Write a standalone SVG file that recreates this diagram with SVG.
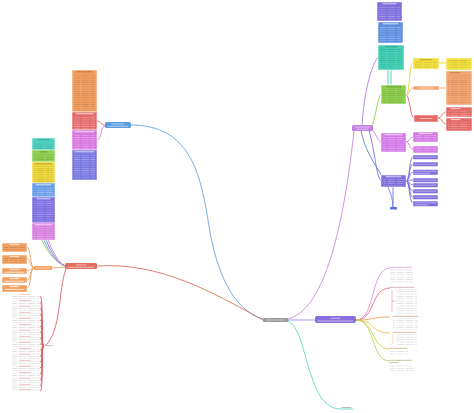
<svg xmlns="http://www.w3.org/2000/svg" width="474" height="413" viewBox="0 0 474 413">
<style>
.c{fill:none;stroke-width:0.9}
.bx{stroke:#fff;stroke-width:0.5}
.ttl{stroke-width:0.7;stroke-linecap:round}
</style>
<defs>
<pattern id="txl" width="9" height="2.2" patternUnits="userSpaceOnUse"><path d="M0.6 1.1H8.2" stroke="#fff" stroke-opacity="0.45" stroke-width="0.55"/></pattern>
<pattern id="txd" width="9" height="2.2" patternUnits="userSpaceOnUse"><path d="M0.6 1.1H8.2" stroke="#000" stroke-opacity="0.2" stroke-width="0.55"/></pattern>
<pattern id="txg" width="9" height="2.4" patternUnits="userSpaceOnUse"><path d="M0.4 1.2H8" stroke="#888" stroke-opacity="0.45" stroke-width="0.5"/></pattern>
</defs>
<rect width="474" height="413" fill="#fff"/>

<g id="connectors">
<path class="c" stroke="#6aa6df" d="M131,125 C188,125 200,170 208,220 C216,275 234,310 263,319"/>
<path class="c" stroke="#e0705e" d="M97,266 C160,262 212,292 263,320"/>
<path class="c" stroke="#c88ae0" d="M288,319 C322,310 342,240 354,131"/>
<path class="c" stroke="#a48ae2" d="M288,320 L315,320"/>
<path class="c" stroke="#62d8c8" d="M288,321 C308,330 306,405 338,409 L353,409"/>
<path class="c" stroke="#b07ce0" d="M362,125 C364,95 370,68 378,57"/>
<path stroke="#45cfb5" stroke-width="0.9" d="M388,70 V85 M391,70 V85"/>
<path class="c" stroke="#8fd04f" d="M372,126 C377,112 377,98 381,95"/>
<path class="c" stroke="#d27ae4" d="M372,130 C377,134 377,141 381,142"/>
<path class="c" stroke="#7f6ddb" d="M369,131 C375,150 376,176 381,181"/>
<path class="c" stroke="#5f7fe0" d="M361,131 C368,165 392,180 393,207"/>
<path stroke="#7f6ddb" stroke-width="0.9" d="M393,187 V207"/>
<path class="c" stroke="#e6d038" d="M406,95 C410,95 409,63 413,63"/>
<path class="c" stroke="#f0a26e" d="M406,95 C410,95 409,88 413,88"/>
<path class="c" stroke="#e26864" d="M406,95 C410,95 410,118 414,118"/>
<path class="c" stroke="#e6d038" d="M439,63 L446,63"/>
<path class="c" stroke="#f0a26e" d="M439,88 L446,88"/>
<path class="c" stroke="#e26864" d="M438,118 C442,118 442,112 446,112 M438,118 C442,118 442,124 446,124"/>
<path class="c" stroke="#d27ae4" d="M406,142 C410,142 409,137 413,137 M406,142 C410,142 409,149 413,149"/>
<path class="c" stroke="#7f6ddb" d="M406,181 C410,181 409,157 413,157 M406,181 C410,181 409,164 413,164 M406,181 C410,181 409,172 413,172 M406,181 C410,181 409,180 413,180 M406,181 C410,181 409,185 413,185 M406,181 C410,181 409,191 413,191 M406,181 C410,181 409,197 413,197 M406,181 C410,181 409,203 413,203"/>
<path class="c" stroke="#e26a6a" d="M105,125 C100,125 101,121 97,121"/>
<path class="c" stroke="#d878e0" d="M105,126 C100,126 102,140 97,140"/>
<path class="c" stroke="#8fd04f" d="M65,266 C56,262 48,254 42,240"/>
<path class="c" stroke="#6a9ee8" d="M65,266 C56,262 50,254 44,240"/>
<path class="c" stroke="#7f6fe0" d="M65,266 C57,262 52,254 46,240"/>
<path class="c" stroke="#d880e0" d="M65,266 C58,262 54,254 48,240"/>
<path class="c" stroke="#f0a060" d="M65,267 L52,268"/>
<path class="c" stroke="#f0a060" d="M34,268 C30,268 31,247 27,247 M34,268 C30,268 31,259 27,259 M34,268 C30,268 31,271 27,271 M34,268 C30,268 31,280 27,280 M34,268 C30,268 31,288 27,288"/>
<path class="c" stroke="#e0606a" d="M66,269 C58,290 62,330 45,346"/>
<path class="c" stroke="#e0606a" d="M44,346 C40,346 44,296 40,296 M44,346 C40,346 44,302 40,302 M44,346 C40,346 44,308 40,308 M44,346 C40,346 44,314 40,314 M44,346 C40,346 44,320 40,320 M44,346 C40,346 44,326 40,326 M44,346 C40,346 44,332 40,332 M44,346 C40,346 44,338 40,338 M44,346 C40,346 44,344 40,344 M44,346 C40,346 44,350 40,350 M44,346 C40,346 44,356 40,356 M44,346 C40,346 44,362 40,362 M44,346 C40,346 44,368 40,368 M44,346 C40,346 44,374 40,374 M44,346 C40,346 44,380 40,380 M44,346 C40,346 44,386 40,386 M44,346 C40,346 44,391 40,391"/>
<path class="c" stroke="#e092d8" d="M356,320 C376,320 370,268 390,268"/>
<path class="c" stroke="#e07284" d="M356,320 C376,320 370,288 390,288"/>
<path class="c" stroke="#f0a060" d="M356,320 C376,320 370,317 390,317"/>
<path class="c" stroke="#f0c050" d="M356,320 C376,320 370,333 390,333"/>
<path class="c" stroke="#d8d040" d="M356,320 C376,320 370,349 390,349"/>
<path class="c" stroke="#b0d860" d="M356,320 C376,320 370,361 390,361"/>
</g>

<g id="central"><rect x="263" y="318" width="25" height="4" rx="1" fill="#9a9a9a"/><path class="ttl" stroke="#fff" stroke-opacity="0.7" d="M266,320H285"/></g>
<g id="node-right"><rect x="315" y="316" width="41" height="7" rx="2" fill="#8a6ee0"/><path class="ttl" stroke="#fff" stroke-opacity="0.75" d="M331,318.2H340 M318,321H353"/></g>
<g id="node-framework"><rect x="352" y="125" width="21" height="6" rx="1.5" fill="#c47ee0"/><path class="ttl" stroke="#fff" stroke-opacity="0.75" d="M355,127H370 M357,129.2H368"/></g>
<g id="node-topleft"><rect x="105" y="122" width="26" height="6" rx="1.5" fill="#5a9ee0"/><path class="ttl" stroke="#fff" stroke-opacity="0.75" d="M112,124H124 M108,126.3H128"/></g>
<g id="node-left"><rect x="65" y="263" width="32" height="6" rx="1.5" fill="#e06f5f"/><path class="ttl" stroke="#fff" stroke-opacity="0.75" d="M76,265H86 M68,267.3H94"/></g>
<g id="node-cyan"><path class="ttl" stroke="#555" stroke-opacity="0.6" d="M342,407.5H351"/></g>

<g id="tr-boxes">
<g id="b1"><rect class="bx" x="377" y="2" width="25" height="19" fill="#7e6fdd"/><rect x="379" y="6" width="21" height="14" fill="url(#txl)"/><path class="ttl" stroke="#fff" d="M383,3.8H396"/></g>
<g id="b2"><rect class="bx" x="378" y="22" width="25" height="21" fill="#5f8fe0"/><rect x="380" y="26" width="21" height="16" fill="url(#txl)"/><path class="ttl" stroke="#fff" d="M383,23.8H398"/></g>
<g id="b3"><rect class="bx" x="378" y="45" width="26" height="25" fill="#45d0b5"/><rect x="380" y="49" width="22" height="20" fill="url(#txd)"/><path class="ttl" stroke="#1a5a50" stroke-opacity="0.6" d="M385,46.8H397"/></g>
<g id="b-green"><rect class="bx" x="381" y="85" width="25" height="19" fill="#90d050"/><rect x="383" y="89" width="21" height="14" fill="url(#txd)"/><path class="ttl" stroke="#335a10" stroke-opacity="0.6" d="M386,86.8H401"/></g>
<g id="b-yellow"><rect class="bx" x="413" y="58" width="26" height="11" fill="#f2e040"/><rect x="415" y="61.5" width="22" height="7" fill="url(#txd)"/><path class="ttl" stroke="#6a5a00" stroke-opacity="0.6" d="M420,59.8H432"/></g>
<g id="b-yellow2"><rect class="bx" x="446" y="58" width="26" height="12" fill="#f2e040"/><rect x="448" y="60" width="22" height="9" fill="url(#txd)"/></g>
<g id="b-orange"><rect class="bx" x="413" y="86" width="26" height="4" fill="#f4a672"/><path class="ttl" stroke="#fff" stroke-opacity="0.7" d="M419,88H433"/></g>
<g id="b-orange2"><rect class="bx" x="446" y="71" width="26" height="34" fill="#f4a672"/><rect x="448" y="75" width="22" height="29" fill="url(#txd)"/><path class="ttl" stroke="#7a3a10" stroke-opacity="0.5" d="M450,72.8H460"/></g>
<g id="b-red"><rect class="bx" x="414" y="115" width="24" height="7" fill="#e46a66"/><path class="ttl" stroke="#fff" stroke-opacity="0.7" d="M420,118.5H432"/></g>
<g id="b-red2"><rect class="bx" x="446" y="107" width="26" height="10" fill="#e46a66"/><rect x="448" y="110" width="22" height="6" fill="url(#txl)"/><path class="ttl" stroke="#fff" d="M451,108.6H460"/></g>
<g id="b-red3"><rect class="bx" x="446" y="118" width="26" height="13" fill="#e46a66"/><rect x="448" y="121" width="22" height="9" fill="url(#txl)"/><path class="ttl" stroke="#fff" d="M451,119.6H460"/></g>
<g id="b-magenta"><rect class="bx" x="381" y="133" width="25" height="19" fill="#d47ae6"/><rect x="383" y="137" width="21" height="14" fill="url(#txl)"/><path class="ttl" stroke="#fff" d="M385,134.8H402"/></g>
<g id="b-mag2"><rect class="bx" x="413" y="132" width="25" height="10" fill="#d47ae6"/><rect x="415" y="135" width="21" height="6" fill="url(#txl)"/><path class="ttl" stroke="#fff" d="M419,133.6H432"/></g>
<g id="b-mag3"><rect class="bx" x="413" y="146" width="25" height="7" fill="#d47ae6"/><rect x="415" y="148" width="21" height="4" fill="url(#txl)"/></g>
<g id="b-purple"><rect class="bx" x="381" y="175" width="25" height="12" fill="#7f6ddb"/><rect x="383" y="179" width="21" height="7" fill="url(#txl)"/><path class="ttl" stroke="#fff" d="M386,176.8H401"/></g>
<g id="b-p1"><rect class="bx" x="413" y="155" width="25" height="4.5" fill="#7f6ddb"/><path class="ttl" stroke="#fff" stroke-opacity="0.6" d="M415,157.2H436"/></g>
<g id="b-p2"><rect class="bx" x="413" y="162" width="25" height="4.5" fill="#7f6ddb"/><path class="ttl" stroke="#fff" stroke-opacity="0.6" d="M415,164.2H436"/></g>
<g id="b-p3"><rect class="bx" x="413" y="169.5" width="25" height="5.5" fill="#7f6ddb"/><path class="ttl" stroke="#fff" stroke-opacity="0.6" d="M415,171.3H436 M415,173.4H430"/></g>
<g id="b-p4"><rect class="bx" x="413" y="178" width="25" height="4.5" fill="#7f6ddb"/><path class="ttl" stroke="#fff" stroke-opacity="0.6" d="M415,180.2H436"/></g>
<g id="b-p5"><rect class="bx" x="413" y="183" width="25" height="4.5" fill="#7f6ddb"/><path class="ttl" stroke="#fff" stroke-opacity="0.6" d="M415,185.2H436"/></g>
<g id="b-p6"><rect class="bx" x="413" y="189" width="25" height="4.5" fill="#7f6ddb"/><path class="ttl" stroke="#fff" stroke-opacity="0.6" d="M415,191.2H436"/></g>
<g id="b-p7"><rect class="bx" x="413" y="195" width="25" height="4.5" fill="#7f6ddb"/><path class="ttl" stroke="#fff" stroke-opacity="0.6" d="M415,197.2H436"/></g>
<g id="b-p8"><rect class="bx" x="413" y="201" width="25" height="5.5" fill="#7f6ddb"/><path class="ttl" stroke="#fff" stroke-opacity="0.6" d="M415,202.8H436 M415,204.9H428"/></g>
<g id="b-small"><rect x="390" y="207" width="7" height="2.5" rx="0.6" fill="#6070e0"/></g>
</g>

<g id="tl-boxes">
<g id="tl1"><rect class="bx" x="72" y="70" width="25" height="42" fill="#f2a062"/><rect x="74" y="74" width="21" height="37" fill="url(#txd)"/><path class="ttl" stroke="#7a3a10" stroke-opacity="0.6" d="M77,71.8H92"/></g>
<g id="tl2"><rect class="bx" x="72" y="112" width="25" height="18" fill="#e46c6c"/><rect x="74" y="116" width="21" height="13" fill="url(#txl)"/><path class="ttl" stroke="#fff" d="M76,113.8H93"/></g>
<g id="tl3"><rect class="bx" x="72" y="130" width="25" height="20" fill="#d878e0"/><rect x="74" y="134" width="21" height="15" fill="url(#txl)"/><path class="ttl" stroke="#fff" d="M75,131.8H94"/></g>
<g id="tl4"><rect class="bx" x="72" y="150" width="25" height="30" fill="#7a78e0"/><rect x="74" y="154" width="21" height="25" fill="url(#txl)"/><path class="ttl" stroke="#fff" d="M75,151.8H94"/></g>
</g>

<g id="l-boxes">
<g id="l1"><rect class="bx" x="32" y="138" width="23" height="12" fill="#4fd0c0"/><rect x="34" y="142" width="19" height="7" fill="url(#txd)"/><path class="ttl" stroke="#1a5a50" stroke-opacity="0.6" d="M38,139.8H49"/></g>
<g id="l2"><rect class="bx" x="32" y="150" width="23" height="12" fill="#90d050"/><rect x="34" y="154" width="19" height="7" fill="url(#txd)"/><path class="ttl" stroke="#335a10" stroke-opacity="0.6" d="M40,151.8H47"/></g>
<g id="l3"><rect class="bx" x="32" y="162" width="23" height="21" fill="#f0d840"/><rect x="34" y="166" width="19" height="16" fill="url(#txd)"/><path class="ttl" stroke="#6a5a00" stroke-opacity="0.6" d="M35,163.8H52"/></g>
<g id="l4"><rect class="bx" x="32" y="183" width="23" height="14" fill="#6a9ee8"/><rect x="34" y="187" width="19" height="9" fill="url(#txl)"/><path class="ttl" stroke="#fff" d="M36,184.8H51"/></g>
<g id="l5"><rect class="bx" x="32" y="197" width="23" height="26" fill="#7f6fe0"/><rect x="34" y="201" width="19" height="21" fill="url(#txl)"/><path class="ttl" stroke="#fff" d="M37,198.8H50"/></g>
<g id="l6"><rect class="bx" x="32" y="223" width="23" height="17" fill="#d880e0"/><rect x="34" y="227" width="19" height="12" fill="url(#txl)"/><path class="ttl" stroke="#fff" d="M35,224.8H52"/></g>
<g id="orange-node"><rect x="34" y="266" width="18" height="4" rx="1" fill="#f0a060"/><path class="ttl" stroke="#fff" stroke-opacity="0.8" d="M36,268H50"/></g>
<g id="o1"><rect class="bx" x="2" y="243" width="25" height="9" fill="#f0a060"/><rect x="4" y="246" width="21" height="5" fill="url(#txd)"/><path class="ttl" stroke="#fff" d="M10,244.6H19"/></g>
<g id="o2"><rect class="bx" x="2" y="255" width="25" height="9" fill="#f0a060"/><rect x="4" y="258" width="21" height="5" fill="url(#txd)"/><path class="ttl" stroke="#fff" d="M10,256.6H19"/></g>
<g id="o3"><rect class="bx" x="2" y="268" width="25" height="6" fill="#f0a060"/><path class="ttl" stroke="#fff" d="M10,269.6H19 M5,272.2H24"/></g>
<g id="o4"><rect class="bx" x="2" y="277" width="25" height="6" fill="#f0a060"/><path class="ttl" stroke="#fff" d="M10,278.6H19 M5,281.2H24"/></g>
<g id="o5"><rect class="bx" x="2" y="285" width="25" height="7" fill="#f0a060"/><path class="ttl" stroke="#fff" d="M10,286.6H19 M5,289.4H24"/></g>
<g id="red-hub"><path class="ttl" stroke="#777" stroke-opacity="0.6" d="M46,345.6H53"/></g>
<g id="red-list">
<path stroke="#e0606a" stroke-opacity="0.7" stroke-width="0.5" stroke-linecap="round" d="M20,294.5H30 M20,300.5H30 M20,306.5H30 M20,312.5H30 M20,318.5H30 M20,324.5H30 M20,330.5H30 M20,336.5H30 M20,342.5H30 M20,348.5H30 M20,354.5H30 M20,360.5H30 M20,366.5H30 M20,372.5H30 M20,378.5H30 M20,384.5H30 M20,389.5H30"/>
<rect x="12" y="295.5" width="28" height="96" fill="url(#txg)"/>
</g>
</g>

<g id="rb-text">
<g stroke-width="0.6" stroke-linecap="round">
<path stroke="#9a5aa0" stroke-opacity="0.7" d="M390,267.3H412"/>
<path stroke="#9a4a5a" stroke-opacity="0.7" d="M390,287.3H414"/>
<path stroke="#9a6030" stroke-opacity="0.7" d="M393,316.3H418"/>
<path stroke="#9a7020" stroke-opacity="0.7" d="M393,332.3H416"/>
<path stroke="#7a7020" stroke-opacity="0.7" d="M390,348.3H407"/>
<path stroke="#6a8030" stroke-opacity="0.7" d="M390,360.3H412 M390,362.6H398"/>
</g>
<path fill="none" stroke="#e07284" stroke-width="0.5" d="M392,290 V312 M392,301 H395"/>
<path fill="none" stroke="#f0c050" stroke-width="0.5" d="M393,334 V344"/>
<rect x="390" y="269" width="24" height="15" fill="url(#txg)"/>
<rect x="395" y="289" width="22" height="25" fill="url(#txg)"/>
<rect x="393" y="318" width="25" height="12" fill="url(#txg)"/>
<rect x="395" y="334" width="22" height="12" fill="url(#txg)"/>
<rect x="390" y="350" width="18" height="6" fill="url(#txg)"/>
<rect x="390" y="364" width="24" height="7" fill="url(#txg)"/>
</g>
</svg>
